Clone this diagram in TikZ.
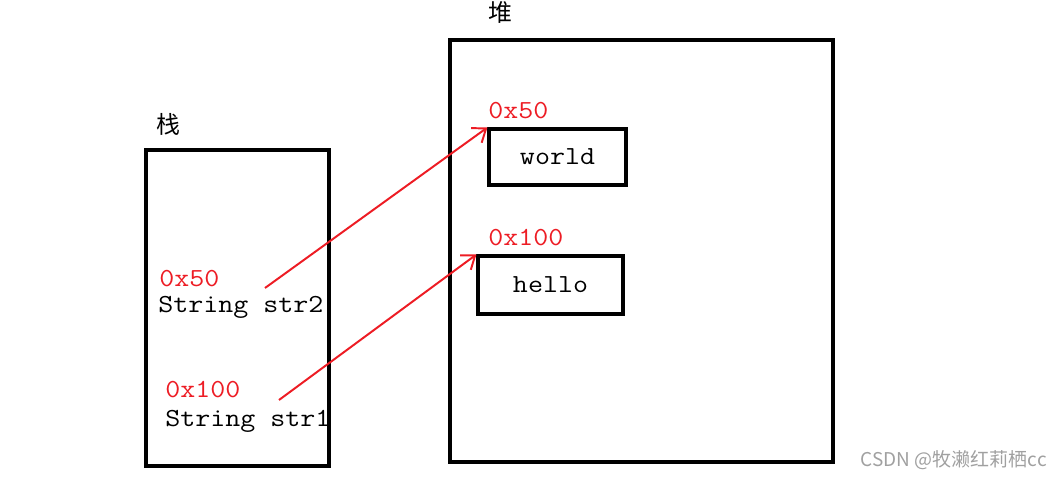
\documentclass[tikz,border=0pt]{standalone}
\usepackage{fontspec}
\newfontfamily\cjk{Noto Sans CJK SC}
\newfontfamily\codefont[FakeStretch=1.12]{Latin Modern Mono}
\usetikzlibrary{arrows.meta,positioning,fit}
\definecolor{ptrred}{RGB}{237,28,36}
\definecolor{markgray}{RGB}{160,160,160}
\begin{document}
\begin{tikzpicture}[
      x=0.025cm,y=-0.025cm,
      box/.style={draw=black,line width=2.2pt,inner sep=0pt},
      val/.style={font=\codefont\fontsize{18.5}{21}\selectfont,inner sep=0pt},
      addr/.style={val,text=ptrred,anchor=west},
      var/.style={val,anchor=west},
      area/.style={font=\cjk\fontsize{17}{20}\selectfont,inner sep=0pt},
      ptr/.style={-{Straight Barb[length=3mm,width=4.5mm]},draw=ptrred,line width=1.4pt}]
    \useasboundingbox (0,0) rectangle (1062,478);

    % stack
    \node[area] (stacklbl) at (168,124) {栈};
    \node[box,fit={(146,150) (329,466)}] (stack) {};
    \node[addr] (a2) at (159,279) {0x50};
    \node[var]  (v2) at (158,307) {String str2};
    \node[addr] (a1) at (165,390) {0x100};
    \node[var]  (v1) at (165,421) {String str1};
    \coordinate (s2) at (265,288);
    \coordinate (s1) at (279,400);

    % heap
    \node[area] (heaplbl) at (500,12) {堆};
    \node[box,fit={(450,40) (833,462)}] (heap) {};
    \node[addr] (h2) at (488,111) {0x50};
    \node[box,fit={(489,129) (626,185)}] (world) {};
    \node[val] at (world.center) {world};
    \node[addr] (h1) at (488,238) {0x100};
    \node[box,fit={(478,256) (623,314)}] (hello) {};
    \node[val] at (hello.center) {hello};

    \draw[ptr] (s2) -- (world.north west);
    \draw[ptr] (s1) -- (hello.north west);

    \node[font=\cjk\fontsize{13.5}{16}\selectfont,text=markgray,anchor=east,inner sep=0pt] (mark) at (1047,460) {CSDN @牧濑红莉栖cc};
  \end{tikzpicture}
\end{document}
